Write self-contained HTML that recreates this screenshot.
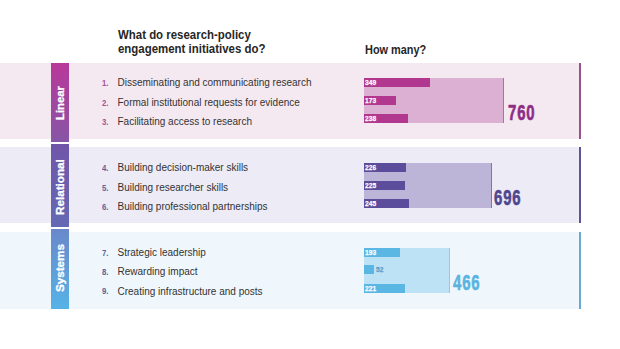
<!DOCTYPE html>
<html><head><meta charset="utf-8">
<style>
html,body{margin:0;padding:0;}
body{width:620px;height:349px;background:#ffffff;position:relative;overflow:hidden;font-family:"Liberation Sans",sans-serif;}
.a{position:absolute;}
.t{position:absolute;white-space:nowrap;line-height:1;}
.title{font-weight:bold;font-size:12.5px;color:#262626;transform-origin:0 0;transform:scaleX(0.915);}
.bg{position:absolute;left:0;width:579px;height:76px;}
.vl{position:absolute;left:579px;width:2px;height:76px;}
.side{position:absolute;left:51px;width:18px;}
.lab{position:absolute;left:60px;color:#fff;font-weight:bold;-webkit-text-stroke:0.3px #fff;font-size:11.3px;white-space:nowrap;line-height:1;transform-origin:0 0;}
.item{font-size:10px;color:#333;}
.num{font-size:8.6px;font-weight:bold;transform-origin:0 0;transform:scaleX(0.9);}
.rect{position:absolute;left:364px;height:45px;}
.edge{position:absolute;width:1px;height:45px;}
.bar{position:absolute;left:364px;height:9px;}
.bv{position:absolute;left:365px;color:#fff;font-weight:bold;font-size:8px;-webkit-text-stroke:0.25px currentColor;line-height:1;transform-origin:0 0;transform:scaleX(0.83);white-space:nowrap;}
.big{position:absolute;font-weight:bold;font-size:21.8px;-webkit-text-stroke:0.6px currentColor;letter-spacing:1.2px;line-height:1;transform-origin:0 0;transform:scaleX(0.685);white-space:nowrap;}
</style></head><body>

<!-- headers -->
<div class="t title" style="left:117.5px;top:29px;">What do research-policy</div>
<div class="t title" style="left:117.5px;top:43px;">engagement initiatives do?</div>
<div class="t title" style="left:364.5px;top:43.5px;font-size:12px;transform:scaleX(0.91);">How many?</div>

<!-- section backgrounds -->
<div class="bg" style="top:63px;background:#f5e9f1;"></div>
<div class="vl" style="top:63px;background:#98508f;"></div>
<div class="bg" style="top:147px;background:#edebf5;"></div>
<div class="vl" style="top:147px;background:#5c5592;"></div>
<div class="bg" style="top:232px;height:77px;background:#eff7fd;"></div>
<div class="vl" style="height:77px;top:232px;background:#6aaad0;"></div>

<!-- side bars -->
<div class="side" style="top:63px;height:78.5px;background:linear-gradient(#b9389a,#8756a6);"></div>
<div class="side" style="top:144px;height:83px;background:linear-gradient(#7055a8,#6469b4);"></div>
<div class="side" style="top:229px;height:79.5px;background:linear-gradient(#6a88ca,#55b3e7);"></div>

<!-- side labels (rotated) -->
<div class="lab" style="top:120px;left:55px;transform:rotate(-90deg);">Linear</div>
<div class="lab" style="top:215.3px;left:54.3px;font-size:11.7px;transform:rotate(-90deg);">Relational</div>
<div class="lab" style="top:292.3px;left:54.3px;font-size:11.65px;transform:rotate(-90deg);">Systems</div>

<!-- items: Linear -->
<div class="t num" style="left:102px;top:79px;color:#a0549a;">1.</div>
<div class="t item" style="left:117.5px;top:77.5px;">Disseminating and communicating research</div>
<div class="t num" style="left:102px;top:99px;color:#a0549a;">2.</div>
<div class="t item" style="left:117.5px;top:97.6px;">Formal institutional requests for evidence</div>
<div class="t num" style="left:102px;top:117.7px;color:#a0549a;">3.</div>
<div class="t item" style="left:117.5px;top:116.6px;">Facilitating access to research</div>

<!-- items: Relational -->
<div class="t num" style="left:102px;top:164px;color:#675f9c;">4.</div>
<div class="t item" style="left:117.5px;top:162.5px;">Building decision-maker skills</div>
<div class="t num" style="left:102px;top:184px;color:#675f9c;">5.</div>
<div class="t item" style="left:117.5px;top:182.6px;">Building researcher skills</div>
<div class="t num" style="left:102px;top:202.7px;color:#675f9c;">6.</div>
<div class="t item" style="left:117.5px;top:201.6px;">Building professional partnerships</div>

<!-- items: Systems -->
<div class="t num" style="left:102px;top:249px;color:#56639a;">7.</div>
<div class="t item" style="left:117.5px;top:247.5px;">Strategic leadership</div>
<div class="t num" style="left:102px;top:268px;color:#56639a;">8.</div>
<div class="t item" style="left:117.5px;top:266.5px;">Rewarding impact</div>
<div class="t num" style="left:102px;top:287px;color:#56639a;">9.</div>
<div class="t item" style="left:117.5px;top:287px;">Creating infrastructure and posts</div>

<!-- Linear chart -->
<div class="rect" style="top:78px;width:139px;background:#dcb0d3;"></div>
<div class="edge" style="left:503px;top:78px;background:#a7739f;"></div>
<div class="bar" style="top:78px;width:66px;background:#b1378f;"></div>
<div class="bar" style="top:96px;width:32px;background:#b1378f;"></div>
<div class="bar" style="top:114px;width:44px;background:#b1378f;"></div>
<div class="bv" style="top:78.5px;">349</div>
<div class="bv" style="top:96.5px;">173</div>
<div class="bv" style="top:114.5px;">238</div>
<div class="big" style="left:508.3px;top:101.5px;color:#8e2d86;">760</div>

<!-- Relational chart -->
<div class="rect" style="top:163px;width:127px;background:#bdb5d8;"></div>
<div class="edge" style="left:491px;top:163px;background:#7f76ad;"></div>
<div class="bar" style="top:163px;width:42px;background:#5b4c9c;"></div>
<div class="bar" style="top:181px;width:41px;background:#5b4c9c;"></div>
<div class="bar" style="top:199px;width:45px;background:#5b4c9c;"></div>
<div class="bv" style="top:163.5px;">226</div>
<div class="bv" style="top:181.5px;">225</div>
<div class="bv" style="top:199.5px;">245</div>
<div class="big" style="left:494.3px;top:186.6px;color:#50468f;">696</div>

<!-- Systems chart -->
<div class="rect" style="top:248px;width:85px;background:#bde2f5;"></div>
<div class="edge" style="left:449px;top:248px;background:#8ccbea;"></div>
<div class="bar" style="top:248px;width:36px;background:#5ab6e3;"></div>
<div class="bar" style="top:265.3px;height:8.5px;width:9.5px;background:#5ab6e3;"></div>
<div class="bar" style="top:284px;width:41px;background:#5ab6e3;"></div>
<div class="bv" style="top:248.5px;">193</div>
<div class="bv" style="top:266px;left:375.5px;color:#5c9dc6;">52</div>
<div class="bv" style="top:284.5px;">221</div>
<div class="big" style="left:453.3px;top:271.7px;color:#5ab4e0;">466</div>

</body></html>
